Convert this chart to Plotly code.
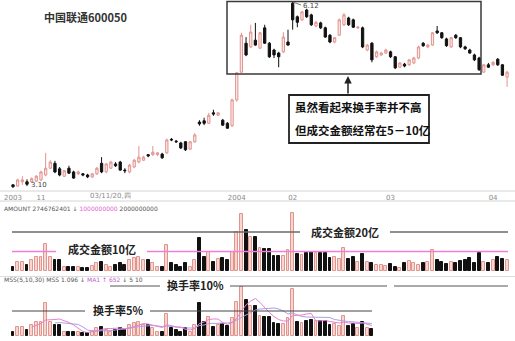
import plotly.graph_objects as go

W, H = 515, 341

# ---------------- data ----------------
open_ = [3.15, 3.13, 3.20, 3.20, 3.20, 3.21, 3.23, 3.31, 3.42, 3.50,
         3.41, 3.29, 3.42, 3.36, 3.33, 3.33, 3.31, 3.28, 3.33, 3.50,
         3.36, 3.42, 3.49, 3.52, 3.39, 3.36, 3.44, 3.52, 3.55, 3.64,
         3.64, 3.64, 3.65, 3.67, 3.89, 3.86, 3.83, 3.85, 3.73, 3.85,
         4.17, 4.19, 4.15, 4.32, 4.28, 4.20, 4.15, 4.11, 4.53, 4.98,
         5.45, 5.39, 5.50, 5.37, 5.70, 5.45, 5.34, 5.29, 5.31, 5.47,
         6.10, 5.88, 5.83, 5.99, 5.91, 5.73, 5.78, 5.70, 5.58, 5.47,
         5.58, 5.75, 5.86, 5.83, 5.70, 5.70, 5.34, 5.45, 5.23, 5.26,
         5.29, 5.31, 5.23, 5.06, 5.11, 5.10, 5.13, 5.21, 5.45, 5.39,
         5.42, 5.65, 5.62, 5.52, 5.39, 5.58, 5.54, 5.39, 5.34, 5.26,
         5.21, 4.98, 5.10, 5.10, 5.19, 5.10, 4.90]
high = [3.16, 3.25, 3.29, 3.24, 3.27, 3.31, 3.38, 3.67, 3.55, 3.54,
        3.44, 3.39, 3.46, 3.38, 3.38, 3.34, 3.33, 3.34, 3.44, 3.60,
        3.50, 3.54, 3.52, 3.54, 3.42, 3.49, 3.57, 3.78, 3.62, 3.65,
        3.78, 3.68, 3.67, 3.90, 3.91, 3.88, 3.85, 3.86, 3.86, 3.99,
        4.20, 4.24, 4.32, 4.37, 4.33, 4.22, 4.17, 4.55, 4.98, 5.62,
        5.55, 5.75, 5.78, 5.63, 5.75, 5.47, 5.36, 5.31, 5.63, 5.67,
        6.12, 5.90, 5.97, 6.01, 5.93, 5.81, 5.80, 5.72, 5.60, 5.55,
        5.85, 5.94, 5.88, 5.85, 5.73, 5.72, 5.44, 5.47, 5.33, 5.31,
        5.36, 5.33, 5.24, 5.14, 5.13, 5.19, 5.23, 5.41, 5.47, 5.44,
        5.63, 5.73, 5.63, 5.54, 5.55, 5.60, 5.55, 5.41, 5.36, 5.28,
        5.23, 5.11, 5.13, 5.16, 5.21, 5.11, 5.00]
low = [3.10, 3.12, 3.15, 3.13, 3.18, 3.20, 3.21, 3.29, 3.41, 3.34,
       3.29, 3.28, 3.33, 3.25, 3.31, 3.29, 3.26, 3.26, 3.31, 3.34,
       3.34, 3.41, 3.44, 3.38, 3.34, 3.34, 3.42, 3.50, 3.54, 3.60,
       3.62, 3.62, 3.57, 3.65, 3.86, 3.83, 3.73, 3.70, 3.72, 3.83,
       4.11, 4.12, 4.14, 4.27, 4.27, 4.11, 4.06, 4.09, 4.50, 4.97,
       5.24, 5.37, 5.41, 5.36, 5.44, 5.21, 5.21, 5.06, 5.29, 5.41,
       5.67, 5.71, 5.81, 5.86, 5.73, 5.71, 5.68, 5.54, 5.45, 5.45,
       5.57, 5.73, 5.73, 5.70, 5.68, 5.37, 5.32, 5.14, 5.21, 5.24,
       5.28, 5.21, 5.03, 5.05, 5.06, 5.08, 5.11, 5.19, 5.39, 5.37,
       5.41, 5.60, 5.52, 5.39, 5.37, 5.52, 5.37, 5.34, 5.28, 5.16,
       5.00, 4.97, 5.05, 5.08, 5.08, 4.92, 4.74]
close = [3.12, 3.23, 3.23, 3.16, 3.25, 3.29, 3.36, 3.42, 3.52, 3.36,
         3.31, 3.38, 3.34, 3.26, 3.36, 3.31, 3.28, 3.33, 3.42, 3.36,
         3.49, 3.52, 3.46, 3.39, 3.38, 3.47, 3.55, 3.60, 3.60, 3.62,
         3.68, 3.67, 3.59, 3.88, 3.88, 3.85, 3.75, 3.72, 3.85, 3.96,
         4.14, 4.15, 4.28, 4.30, 4.32, 4.12, 4.07, 4.53, 4.97, 5.58,
         5.26, 5.63, 5.42, 5.62, 5.45, 5.23, 5.26, 5.23, 5.55, 5.42,
         5.83, 5.79, 5.96, 5.88, 5.75, 5.79, 5.70, 5.55, 5.47, 5.54,
         5.83, 5.91, 5.75, 5.71, 5.71, 5.39, 5.42, 5.18, 5.31, 5.29,
         5.34, 5.23, 5.05, 5.13, 5.08, 5.18, 5.21, 5.39, 5.41, 5.42,
         5.62, 5.62, 5.54, 5.41, 5.54, 5.54, 5.39, 5.36, 5.29, 5.18,
         5.02, 5.10, 5.06, 5.14, 5.10, 4.93, 4.98]

# 成交金额, 亿元
amount = [2.0, 4.4, 4.4, 3.0, 5.6, 7.3, 7.0, 14.0, 7.0, 5.6,
          5.6, 2.0, 2.2, 2.2, 1.9, 1.4, 1.5, 2.5, 4.0, 4.8,
          3.0, 2.0, 3.0, 4.0, 3.0, 5.6, 6.5, 7.0, 5.6, 5.6,
          4.0, 2.2, 2.2, 13.3, 4.0, 3.0, 2.2, 4.3, 1.9, 5.6,
          16.7, 7.3, 10.0, 4.8, 6.0, 6.5, 5.6, 10.0, 20.0, 29.0,
          21.0, 17.6, 17.6, 12.0, 11.3, 11.3, 7.7, 7.5, 7.5, 10.8,
          30.0, 8.7, 8.2, 9.4, 10.0, 9.0, 9.4, 9.4, 6.5, 7.3,
          6.0, 12.0, 6.0, 7.3, 4.8, 8.7, 4.8, 4.0, 3.0, 3.0,
          2.6, 3.5, 2.2, 1.4, 4.0, 5.2, 4.3, 3.0, 4.0, 4.8,
          10.8, 5.6, 4.8, 3.5, 4.8, 4.0, 5.2, 5.6, 6.5, 4.3,
          9.0, 4.8, 4.0, 5.6, 7.3, 6.0, 5.6]
# days whose amount / turnover bars are drawn pink although the candle is black
vol_pink_days = [59, 60]

# 换手率, %
turnover = [0.8, 1.8, 1.8, 1.2, 2.2, 2.9, 2.8, 6.6, 2.8, 2.2,
            2.2, 0.8, 0.9, 0.9, 0.8, 0.6, 0.6, 1.0, 1.6, 1.9,
            1.2, 0.8, 1.2, 1.6, 1.2, 2.2, 2.6, 2.8, 2.2, 2.2,
            1.6, 0.9, 0.9, 4.5, 1.6, 1.2, 0.9, 1.7, 0.8, 2.2,
            6.6, 2.8, 3.8, 1.8, 2.3, 2.5, 2.1, 3.6, 6.8, 9.8,
            7.2, 6.0, 6.0, 4.1, 3.8, 3.8, 2.6, 2.5, 2.5, 3.6,
            9.4, 2.9, 2.7, 3.1, 3.3, 3.0, 3.1, 3.1, 2.2, 2.4,
            2.0, 4.0, 2.0, 2.4, 1.6, 2.9, 1.6, 1.5]

ma_short = [None, None, None, None,
            1.8, 2.2, 2.5, 3.2, 3.2, 3.3, 3.4, 3.1, 2.7, 2.2,
            1.6, 0.9, 0.7, 0.8, 1.0, 1.3, 1.5, 1.5,
            1.5, 1.6, 1.4, 1.6, 1.9, 2.2, 2.5, 2.4, 2.2,
            1.9, 1.7, 2.2, 2.1, 1.8, 1.8, 1.3, 1.2, 1.5,
            2.5, 2.8, 3.3, 3.4, 3.4, 2.7, 2.3, 2.7, 3.5,
            5.0, 6.2, 7.0, 7.5, 6.7, 5.6, 4.7, 3.9, 3.3, 3.0,
            3.0, 4.1, 4.1, 4.2, 4.4, 4.5, 3.0, 3.0, 3.1, 2.9,
            2.8, 2.6, 2.8, 2.6, 2.6, 2.5, 2.6, 2.3, 2.1]
ma_long = [None] * 9 + [
    2.6, 2.7, 2.6, 2.5, 2.4, 2.3, 1.8, 1.2,
    1.0, 1.0, 1.1, 1.1, 1.1, 1.2, 1.3, 1.4, 1.5, 1.7,
    1.9, 2.0, 2.1, 2.1, 2.0, 1.9, 2.0, 1.9,
    1.7, 1.6, 1.6, 1.6, 1.6, 2.1, 2.2, 2.5, 2.5, 2.6,
    2.6, 2.6, 2.7, 3.2, 3.8, 4.3, 4.8, 5.2, 5.4,
    5.5, 5.6, 5.6, 5.4, 5.0, 4.4, 4.6, 4.2, 3.9, 3.8,
    3.8, 3.8, 3.8, 3.8, 3.7, 3.3, 3.1, 3.0, 2.9, 2.8,
    2.7, 2.6, 2.6, 2.5]

tick_idx = [0, 6, 48, 60, 81, 103]
tick_text = ["2003", "11", "2004", "02", "03", "04"]

# ---------------- helpers ----------------
def px(x):
    return x / W

def py(y):
    return 1 - y / H

PINK_LINE = "#e2948f"
PINK_FILL = "#f7d6d0"
BLACK = "#111111"
CJK = "Noto Sans CJK SC"

n = len(close)
idx = list(range(n))
up = [c >= o for o, c in zip(open_, close)]
vol_up = list(up)
for d in vol_pink_days:
    vol_up[d] = True

fig = go.Figure()
fig.add_trace(go.Candlestick(
    x=idx, open=open_, high=high, low=low, close=close,
    increasing=dict(line=dict(color=PINK_LINE, width=1), fillcolor="#fbe9e6"),
    decreasing=dict(line=dict(color=BLACK, width=1), fillcolor=BLACK),
    whiskerwidth=0, xaxis="x", yaxis="y", showlegend=False, hoverinfo="skip"))

fig.add_trace(go.Bar(
    x=idx, y=amount, width=0.62,
    marker=dict(color=[PINK_FILL if u else BLACK for u in vol_up],
                line=dict(color=[PINK_LINE if u else BLACK for u in vol_up], width=1)),
    xaxis="x2", yaxis="y2", showlegend=False, hoverinfo="skip"))

m = len(turnover)
t_idx = idx[:m]
fig.add_trace(go.Bar(
    x=t_idx, y=turnover, width=0.62,
    marker=dict(color=[PINK_FILL if u else BLACK for u in vol_up[:m]],
                line=dict(color=[PINK_LINE if u else BLACK for u in vol_up[:m]], width=1)),
    xaxis="x3", yaxis="y3", showlegend=False, hoverinfo="skip"))
fig.add_trace(go.Scatter(x=t_idx, y=ma_long, mode="lines",
                         line=dict(color="#a9a2e6", width=1),
                         xaxis="x3", yaxis="y3", showlegend=False, hoverinfo="skip"))
fig.add_trace(go.Scatter(x=t_idx, y=ma_short, mode="lines",
                         line=dict(color="#e77fd2", width=1),
                         xaxis="x3", yaxis="y3", showlegend=False, hoverinfo="skip"))

xr = [-2.79, 107.7]
ax_common = dict(range=xr, showgrid=False, zeroline=False, showline=False, fixedrange=True)

fig.update_layout(
    width=W, height=H, margin=dict(l=0, r=0, t=0, b=0),
    paper_bgcolor="white", plot_bgcolor="white",
    showlegend=False, bargap=0,
    xaxis=dict(**ax_common, anchor="y", rangeslider=dict(visible=False),
               tickmode="array", tickvals=tick_idx, ticktext=tick_text,
               tickfont=dict(size=7, color="#8a8a8a", family="DejaVu Sans"),
               ticks="", ticklabelstandoff=0),
    xaxis2=dict(**ax_common, anchor="y2", showticklabels=False),
    xaxis3=dict(**ax_common, anchor="y3", showticklabels=False),
    yaxis=dict(domain=[py(192), 1], range=[3.034, 6.152], visible=False),
    yaxis2=dict(domain=[py(271), py(202)], range=[0, 35.4], visible=False),
    yaxis3=dict(domain=[py(336), py(276)], range=[0, 12], visible=False),
)

shapes = []
for yy in (191, 201):
    shapes.append(dict(type="line", xref="paper", yref="paper", x0=0, x1=1,
                       y0=py(yy), y1=py(yy), line=dict(color="#d4d4d4", width=1)))
shapes.append(dict(type="line", xref="paper", yref="paper", x0=0, x1=1,
                   y0=py(276.5), y1=py(276.5), line=dict(color="#dcdcdc", width=1)))
shapes.append(dict(type="rect", xref="paper", yref="paper",
                   x0=px(227), x1=px(481), y0=py(74), y1=py(1.5),
                   line=dict(color="#3a3a3a", width=1.5)))
shapes.append(dict(type="rect", xref="paper", yref="paper",
                   x0=px(289), x1=px(429), y0=py(143), y1=py(95),
                   fillcolor="white", line=dict(color="#222", width=1.8)))
shapes.append(dict(type="line", xref="paper", yref="paper",
                   x0=px(293), x1=px(301), y0=py(2), y1=py(5),
                   line=dict(color="#555", width=0.8)))
for a, b in ((12, 300), (390, 508)):
    shapes.append(dict(type="line", xref="paper", yref="y2", x0=px(a), x1=px(b),
                       y0=20, y1=20, line=dict(color="#6a6a6a", width=1.5)))
for a, b in ((12, 56), (147, 508)):
    shapes.append(dict(type="line", xref="paper", yref="y2", x0=px(a), x1=px(b),
                       y0=10, y1=10, line=dict(color="#ee7fd6", width=1.5)))
for a, b in ((110, 160), (230, 387), (394, 508)):
    shapes.append(dict(type="line", xref="paper", yref="y3", x0=px(a), x1=px(b),
                       y0=10, y1=10, line=dict(color="#555", width=1)))
for a, b in ((12, 85), (150, 372)):
    shapes.append(dict(type="line", xref="paper", yref="y3", x0=px(a), x1=px(b),
                       y0=5, y1=5, line=dict(color="#444", width=1)))
fig.update_layout(shapes=shapes)

def ann(text, x, y, size=11, color="#222", xanchor="left", weight="bold", family=CJK):
    return dict(text=text, xref="paper", yref="paper", x=px(x), y=py(y),
                xanchor=xanchor, yanchor="middle", showarrow=False,
                font=dict(size=size, color=color, family=family, weight=weight))

anns = [
    ann("中国联通600050", 42, 17, size=11, color="#333"),
    ann("虽然看起来换手率并不高", 293, 107, size=11.5, color="#111"),
    ann("但成交金额经常在5－10亿", 293, 130, size=11.5, color="#111"),
    ann("6.12", 301, 6, size=7, color="#444", weight="normal", family="DejaVu Sans"),
    ann("3.10", 29, 185, size=7, color="#444", weight="normal", family="DejaVu Sans"),
    ann("03/11/20,四", 88, 196, size=7, color="#8a8a8a", weight="normal", family="DejaVu Sans"),
    ann("AMOUNT 2746762401 ↓ <span style='color:#e060d0'>1000000000</span> 2000000000",
        2, 208, size=6, color="#555", weight="normal", family="DejaVu Sans"),
    ann("MSS(5,10,30) MSS 1.096 ↓ <span style='color:#c060d0'>MA1 ↑ 652</span> ↓ 5 10",
        2, 279, size=6, color="#555", weight="normal", family="DejaVu Sans"),
    ann("成交金额20亿", 345, 232, size=11, xanchor="center"),
    ann("成交金额10亿", 102, 249, size=11, xanchor="center"),
    ann("换手率10%", 195, 285, size=11, xanchor="center"),
    ann("换手率5%", 118, 310, size=11, xanchor="center"),
    dict(text="", xref="paper", yref="paper", x=px(348), y=py(76),
         ax=0, ay=19, showarrow=True, arrowhead=2, arrowsize=1,
         arrowwidth=1.5, arrowcolor="#222"),
]
fig.update_layout(annotations=anns)

fig.write_html("out.html")
